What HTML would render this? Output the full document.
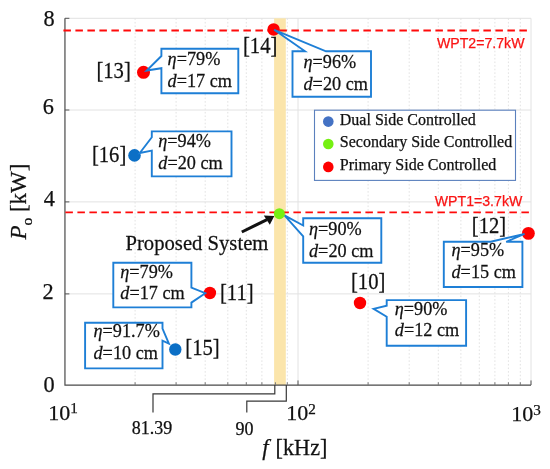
<!DOCTYPE html><html><head><meta charset="utf-8"><title>chart</title><style>html,body{margin:0;padding:0;background:#fff}svg text{font-family:"Liberation Serif",serif;fill:#111;stroke:#111;stroke-width:0.25px}</style></head><body><svg width="550" height="469" viewBox="0 0 550 469" style="display:block">
<rect width="550" height="469" fill="#fff"/>
<line x1="64.95" x2="531.0" y1="293.9" y2="293.9" stroke="#e2e2e2" stroke-width="1"/>
<line x1="64.95" x2="531.0" y1="201.9" y2="201.9" stroke="#e2e2e2" stroke-width="1"/>
<line x1="64.95" x2="531.0" y1="110.0" y2="110.0" stroke="#e2e2e2" stroke-width="1"/>
<line x1="64.95" x2="531.0" y1="18.3" y2="18.3" stroke="#e2e2e2" stroke-width="1"/>
<line x1="135.1" x2="135.1" y1="18.3" y2="385.05" stroke="#e2e2e2" stroke-width="1" stroke-dasharray="1.6 2"/>
<line x1="176.1" x2="176.1" y1="18.3" y2="385.05" stroke="#e2e2e2" stroke-width="1" stroke-dasharray="1.6 2"/>
<line x1="205.2" x2="205.2" y1="18.3" y2="385.05" stroke="#e2e2e2" stroke-width="1" stroke-dasharray="1.6 2"/>
<line x1="227.8" x2="227.8" y1="18.3" y2="385.05" stroke="#e2e2e2" stroke-width="1" stroke-dasharray="1.6 2"/>
<line x1="246.3" x2="246.3" y1="18.3" y2="385.05" stroke="#e2e2e2" stroke-width="1" stroke-dasharray="1.6 2"/>
<line x1="261.9" x2="261.9" y1="18.3" y2="385.05" stroke="#e2e2e2" stroke-width="1" stroke-dasharray="1.6 2"/>
<line x1="275.4" x2="275.4" y1="18.3" y2="385.05" stroke="#e2e2e2" stroke-width="1" stroke-dasharray="1.6 2"/>
<line x1="287.3" x2="287.3" y1="18.3" y2="385.05" stroke="#e2e2e2" stroke-width="1" stroke-dasharray="1.6 2"/>
<line x1="368.1" x2="368.1" y1="18.3" y2="385.05" stroke="#e2e2e2" stroke-width="1" stroke-dasharray="1.6 2"/>
<line x1="409.2" x2="409.2" y1="18.3" y2="385.05" stroke="#e2e2e2" stroke-width="1" stroke-dasharray="1.6 2"/>
<line x1="438.3" x2="438.3" y1="18.3" y2="385.05" stroke="#e2e2e2" stroke-width="1" stroke-dasharray="1.6 2"/>
<line x1="460.9" x2="460.9" y1="18.3" y2="385.05" stroke="#e2e2e2" stroke-width="1" stroke-dasharray="1.6 2"/>
<line x1="479.3" x2="479.3" y1="18.3" y2="385.05" stroke="#e2e2e2" stroke-width="1" stroke-dasharray="1.6 2"/>
<line x1="494.9" x2="494.9" y1="18.3" y2="385.05" stroke="#e2e2e2" stroke-width="1" stroke-dasharray="1.6 2"/>
<line x1="508.4" x2="508.4" y1="18.3" y2="385.05" stroke="#e2e2e2" stroke-width="1" stroke-dasharray="1.6 2"/>
<line x1="520.3" x2="520.3" y1="18.3" y2="385.05" stroke="#e2e2e2" stroke-width="1" stroke-dasharray="1.6 2"/>
<line x1="298.0" x2="298.0" y1="18.3" y2="385.05" stroke="#e2e2e2" stroke-width="1"/>
<line x1="531.0" x2="531.0" y1="18.3" y2="385.05" stroke="#e2e2e2" stroke-width="1"/>
<rect x="274.1" y="18.3" width="11.7" height="366.75" fill="#fbe5ab"/>
<path d="M64.95 18.3 V385.05 H531.0" fill="none" stroke="#4a4a4a" stroke-width="1.2"/>
<line x1="64.95" x2="69.35000000000001" y1="293.9" y2="293.9" stroke="#555" stroke-width="1"/>
<line x1="64.95" x2="69.35000000000001" y1="201.9" y2="201.9" stroke="#555" stroke-width="1"/>
<line x1="64.95" x2="69.35000000000001" y1="110.0" y2="110.0" stroke="#555" stroke-width="1"/>
<line x1="64.95" x2="69.35000000000001" y1="18.3" y2="18.3" stroke="#555" stroke-width="1"/>
<line x1="135.1" x2="135.1" y1="385.05" y2="382.25" stroke="#777" stroke-width="1"/>
<line x1="176.1" x2="176.1" y1="385.05" y2="382.25" stroke="#777" stroke-width="1"/>
<line x1="205.2" x2="205.2" y1="385.05" y2="382.25" stroke="#777" stroke-width="1"/>
<line x1="227.8" x2="227.8" y1="385.05" y2="382.25" stroke="#777" stroke-width="1"/>
<line x1="246.3" x2="246.3" y1="385.05" y2="382.25" stroke="#777" stroke-width="1"/>
<line x1="261.9" x2="261.9" y1="385.05" y2="382.25" stroke="#777" stroke-width="1"/>
<line x1="275.4" x2="275.4" y1="385.05" y2="382.25" stroke="#777" stroke-width="1"/>
<line x1="287.3" x2="287.3" y1="385.05" y2="382.25" stroke="#777" stroke-width="1"/>
<line x1="298.0" x2="298.0" y1="385.05" y2="380.45" stroke="#555" stroke-width="1"/>
<line x1="368.1" x2="368.1" y1="385.05" y2="382.25" stroke="#777" stroke-width="1"/>
<line x1="409.2" x2="409.2" y1="385.05" y2="382.25" stroke="#777" stroke-width="1"/>
<line x1="438.3" x2="438.3" y1="385.05" y2="382.25" stroke="#777" stroke-width="1"/>
<line x1="460.9" x2="460.9" y1="385.05" y2="382.25" stroke="#777" stroke-width="1"/>
<line x1="479.3" x2="479.3" y1="385.05" y2="382.25" stroke="#777" stroke-width="1"/>
<line x1="494.9" x2="494.9" y1="385.05" y2="382.25" stroke="#777" stroke-width="1"/>
<line x1="508.4" x2="508.4" y1="385.05" y2="382.25" stroke="#777" stroke-width="1"/>
<line x1="520.3" x2="520.3" y1="385.05" y2="382.25" stroke="#777" stroke-width="1"/>
<line x1="531.0" x2="531.0" y1="385.05" y2="380.45" stroke="#555" stroke-width="1"/>
<line x1="63.4" x2="528.5" y1="30.5" y2="30.5" stroke="#ff0a0a" stroke-width="1.9" stroke-dasharray="7.5 4.5"/>
<line x1="65.4" x2="530" y1="212.4" y2="212.4" stroke="#ff0a0a" stroke-width="1.9" stroke-dasharray="7.5 4.5"/>
<path d="M153 412.5 V393.8 H274.8 V385.05" fill="none" stroke="#383838" stroke-width="1.2"/>
<path d="M246.8 412.5 V401.2 H286.3 V385.05" fill="none" stroke="#383838" stroke-width="1.2"/>
<circle cx="143.5" cy="72.3" r="6.5" fill="#fe0000"/>
<circle cx="134.5" cy="155.4" r="6.3" fill="#0b6fc6"/>
<circle cx="273.6" cy="29.5" r="6.2" fill="#fe0000"/>
<circle cx="528.4" cy="233.4" r="6.4" fill="#fe0000"/>
<circle cx="360" cy="303" r="6.2" fill="#fe0000"/>
<circle cx="209.9" cy="293" r="6.2" fill="#fe0000"/>
<circle cx="175.3" cy="349.5" r="6.2" fill="#0b6fc6"/>
<path d="M161.4 48.8 H238.3 V93.3 H161.4 V68.2 L146.7 70.5 L161.4 56 Z" fill="#fff" stroke="#1e7fd6" stroke-width="1.9" stroke-linejoin="miter"/>
<text transform="translate(167.6,65.3) scale(0.935,1)" font-size="19.5" text-anchor="start" ><tspan font-style="italic">η</tspan>=79%</text>
<text transform="translate(167.6,86.5) scale(0.935,1)" font-size="19.5" text-anchor="start" ><tspan font-style="italic">d</tspan>=17 cm</text>
<text transform="translate(96.4,78) scale(0.905,1)" font-size="22.8" text-anchor="start" >[13]</text>
<path d="M151.8 131.4 H231.5 V176.4 H151.8 V150.6 L139.8 153 L151.8 137.2 Z" fill="#fff" stroke="#1e7fd6" stroke-width="1.9" stroke-linejoin="miter"/>
<text transform="translate(158.3,147.2) scale(0.935,1)" font-size="19.5" text-anchor="start" ><tspan font-style="italic">η</tspan>=94%</text>
<text transform="translate(158.3,169.1) scale(0.935,1)" font-size="19.5" text-anchor="start" ><tspan font-style="italic">d</tspan>=20 cm</text>
<text transform="translate(91.9,162.3) scale(0.905,1)" font-size="22.8" text-anchor="start" >[16]</text>
<path d="M292.5 51.3 H305 L274.2 29.8 L326 51.3 H371 V96.7 H292.5 Z" fill="#fff" stroke="#1e7fd6" stroke-width="1.9" stroke-linejoin="miter"/>
<text transform="translate(303.5,68.2) scale(0.935,1)" font-size="19.5" text-anchor="start" ><tspan font-style="italic">η</tspan>=96%</text>
<text transform="translate(303.5,90) scale(0.935,1)" font-size="19.5" text-anchor="start" ><tspan font-style="italic">d</tspan>=20 cm</text>
<text transform="translate(243,53) scale(0.905,1)" font-size="22.8" text-anchor="start" >[14]</text>
<path d="M303.2 218.2 H381.3 V262.7 H303.2 V236.4 L284.5 215.3 L303.2 225.5 Z" fill="#fff" stroke="#1e7fd6" stroke-width="1.9" stroke-linejoin="miter"/>
<text transform="translate(309,234.8) scale(0.935,1)" font-size="19.5" text-anchor="start" ><tspan font-style="italic">η</tspan>=90%</text>
<text transform="translate(309,256.8) scale(0.935,1)" font-size="19.5" text-anchor="start" ><tspan font-style="italic">d</tspan>=20 cm</text>
<path d="M490.7 241.8 H443.8 V287 H522.4 V241.8 H506.2 L524.5 234 Z" fill="#fff" stroke="#1e7fd6" stroke-width="1.9" stroke-linejoin="miter"/>
<text transform="translate(451.5,256.3) scale(0.935,1)" font-size="19.5" text-anchor="start" ><tspan font-style="italic">η</tspan>=95%</text>
<text transform="translate(451.5,278) scale(0.935,1)" font-size="19.5" text-anchor="start" ><tspan font-style="italic">d</tspan>=15 cm</text>
<text transform="translate(471.8,232.6) scale(0.905,1)" font-size="22.8" text-anchor="start" >[12]</text>
<path d="M386.7 300.1 H466.1 V345.8 H386.7 V316.7 L373.6 308.9 L386.7 305.7 Z" fill="#fff" stroke="#1e7fd6" stroke-width="1.9" stroke-linejoin="miter"/>
<text transform="translate(394.8,314.7) scale(0.935,1)" font-size="19.5" text-anchor="start" ><tspan font-style="italic">η</tspan>=90%</text>
<text transform="translate(394.8,336.2) scale(0.935,1)" font-size="19.5" text-anchor="start" ><tspan font-style="italic">d</tspan>=12 cm</text>
<text transform="translate(351,288.6) scale(0.905,1)" font-size="22.8" text-anchor="start" >[10]</text>
<path d="M113.3 262.8 H191.4 V287.6 L205.3 293.2 L191.4 302.6 V307.4 H113.3 Z" fill="#fff" stroke="#1e7fd6" stroke-width="1.9" stroke-linejoin="miter"/>
<text transform="translate(120.3,277.6) scale(0.935,1)" font-size="19.5" text-anchor="start" ><tspan font-style="italic">η</tspan>=79%</text>
<text transform="translate(120.3,298.8) scale(0.935,1)" font-size="19.5" text-anchor="start" ><tspan font-style="italic">d</tspan>=17 cm</text>
<text transform="translate(220,299.8) scale(0.905,1)" font-size="22.8" text-anchor="start" >[11]</text>
<path d="M85.1 322.7 H162.5 V328.5 L168.9 343.6 L162.5 340.7 V368.4 H85.1 Z" fill="#fff" stroke="#1e7fd6" stroke-width="1.9" stroke-linejoin="miter"/>
<text transform="translate(93.5,337.2) scale(0.935,1)" font-size="19.5" text-anchor="start" ><tspan font-style="italic">η</tspan>=91.7%</text>
<text transform="translate(93.5,358.6) scale(0.935,1)" font-size="19.5" text-anchor="start" ><tspan font-style="italic">d</tspan>=10 cm</text>
<text transform="translate(185.3,354.7) scale(0.905,1)" font-size="22.8" text-anchor="start" >[15]</text>
<text transform="translate(125.5,249.7) scale(0.975,1)" font-size="21.2" text-anchor="start" >Proposed System</text>
<path d="M241.8 232 L267 219.6" stroke="#111" stroke-width="3" fill="none"/>
<path d="M274.3 215.9 L263.8 215.4 L269.8 224.8 Z" fill="#111"/>
<circle cx="279.4" cy="213.7" r="5.5" fill="#76f012"/>
<rect x="314.5" y="110.2" width="201" height="70.2" fill="#fff" stroke="#5b80bd" stroke-width="1.1"/>
<circle cx="328.3" cy="121.6" r="5.3" fill="#4472c4"/>
<text transform="translate(339.8,125) scale(1.0,1)" font-size="16" text-anchor="start" >Dual Side Controlled</text>
<circle cx="328.3" cy="144" r="5.3" fill="#76f012"/>
<text transform="translate(339.8,147.3) scale(1.0,1)" font-size="16" text-anchor="start" >Secondary Side Controlled</text>
<circle cx="328.3" cy="166.9" r="5.3" fill="#fe0000"/>
<text transform="translate(339.8,170) scale(1.0,1)" font-size="16" text-anchor="start" >Primary Side Controlled</text>
<text x="524.5" y="47.8" font-size="14.4" text-anchor="end" style="fill:#fa1414;stroke:#fa1414;font-family:'Liberation Sans',sans-serif" textLength="87.5" lengthAdjust="spacingAndGlyphs">WPT2=7.7kW</text>
<text x="522.3" y="206" font-size="14.4" text-anchor="end" style="fill:#fa1414;stroke:#fa1414;font-family:'Liberation Sans',sans-serif" textLength="87.5" lengthAdjust="spacingAndGlyphs">WPT1=3.7kW</text>
<text transform="translate(54.6,391.9) scale(1.0,1)" font-size="22.3" text-anchor="end" >0</text>
<text transform="translate(53.6,299.1) scale(1.0,1)" font-size="22.3" text-anchor="end" >2</text>
<text transform="translate(54.8,205.6) scale(1.0,1)" font-size="22.3" text-anchor="end" >4</text>
<text transform="translate(53.9,113.6) scale(1.0,1)" font-size="22.3" text-anchor="end" >6</text>
<text transform="translate(54.7,25.8) scale(1.0,1)" font-size="22.3" text-anchor="end" >8</text>
<text x="48.3" y="419.6" font-size="22">10<tspan font-size="15.2" dy="-6.4">1</tspan></text>
<text x="286.3" y="420.3" font-size="22">10<tspan font-size="15.2" dy="-6.4">2</tspan></text>
<text x="511.3" y="421.2" font-size="22">10<tspan font-size="15.2" dy="-6.4">3</tspan></text>
<text transform="translate(151.9,434.4) scale(1.0,1)" font-size="18" text-anchor="middle" >81.39</text>
<text transform="translate(244.5,434.7) scale(1.0,1)" font-size="18" text-anchor="middle" >90</text>
<text x="262.3" y="455" font-size="22.8"><tspan font-style="italic">f</tspan></text>
<text transform="translate(275.6,455) scale(0.975,1)" font-size="22.8" text-anchor="start" >[kHz]</text>
<text transform="translate(26.4,239.6) rotate(-90)" font-size="23"><tspan font-style="italic">P</tspan><tspan font-size="15.5" dy="5.2">o</tspan><tspan dy="-5.2"> [kW]</tspan></text>
</svg></body></html>
